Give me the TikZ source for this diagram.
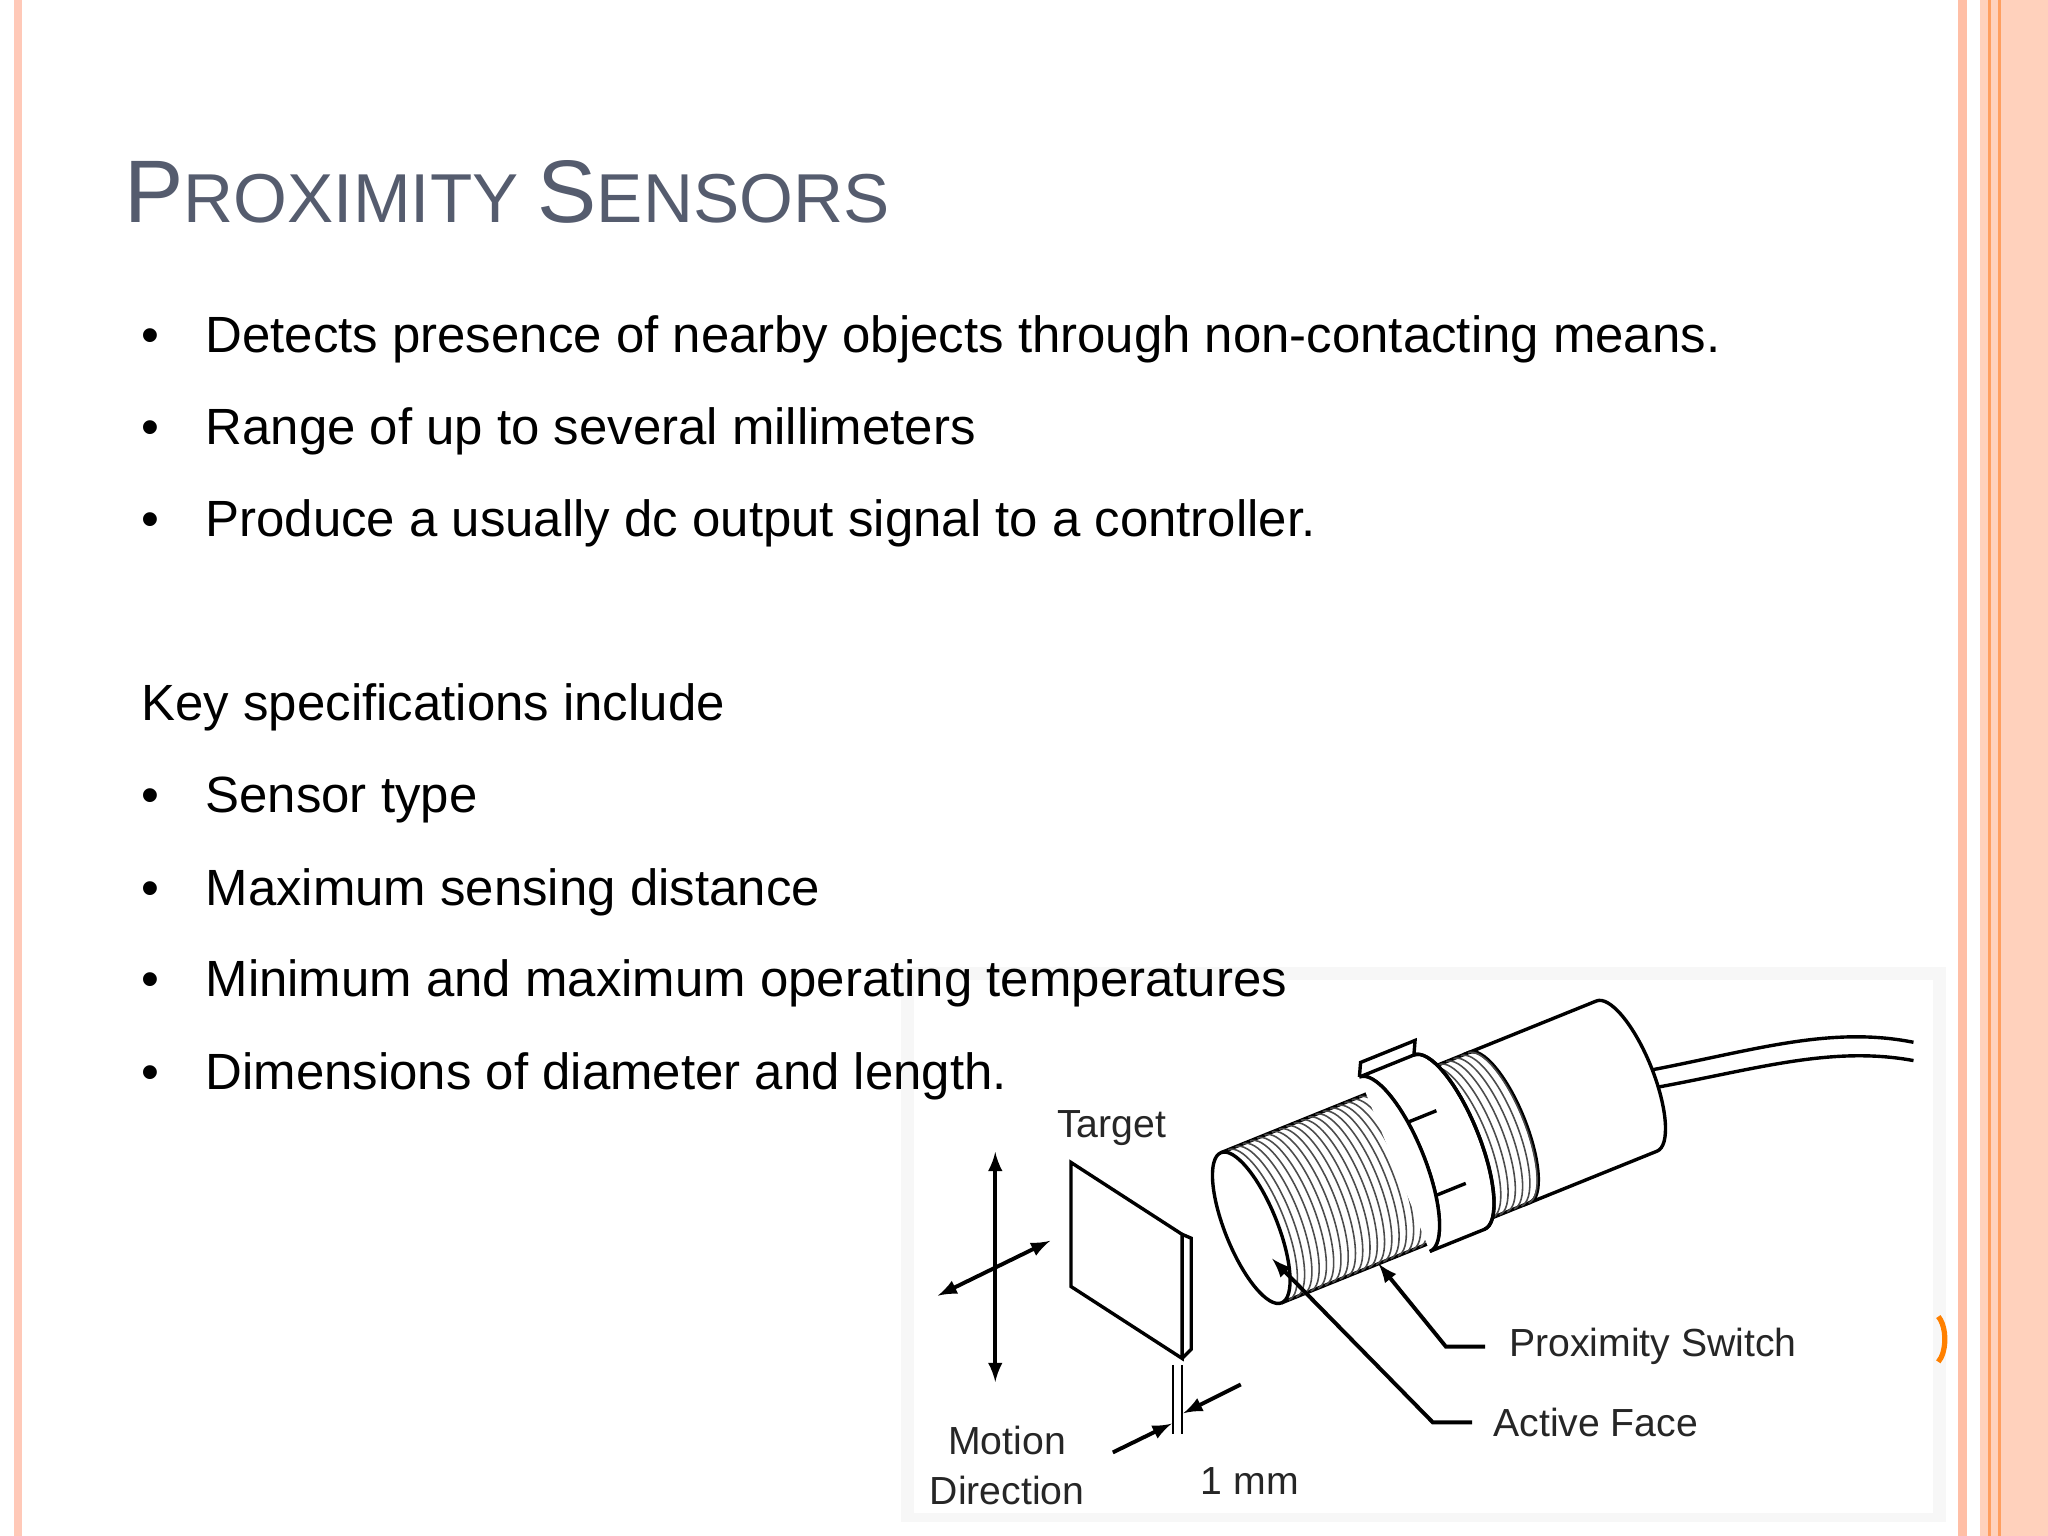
\documentclass[tikz,border=0pt]{standalone}
\usepackage{fontspec}
\setmainfont{Liberation Sans}
\begin{document}
\begin{tikzpicture}[x=0.5pt,y=0.5pt,
  body/.style={anchor=base west,font=\fontsize{19.5}{20}\selectfont,text=black,inner sep=0},
  bul/.style={anchor=base west,font=\fontsize{19.5}{20}\selectfont,inner sep=0},
  lab/.style={font=\fontsize{15}{17}\selectfont,text=black!85,inner sep=0},
  ln/.style={line width=1.3pt,black},
  arr/.style={line width=1.5pt,-latex}]
\useasboundingbox (0,0) rectangle (1568,-1176);
\fill[white] (0,0) rectangle (1568,-1176);
% borders
\fill[orange!20!pink!70] (11,0) rectangle (17,-1176);
\fill[orange!25!pink!80] (1499,0) rectangle (1506,-1176);
\fill[orange!30!pink!55] (1516,0) rectangle (1568,-1176);
\draw[orange!50!pink,line width=1pt] (1523,0) -- (1523,-1176) (1531,0) -- (1531,-1176);
% image background
\fill[black!3] (690,-740) rectangle (1490,-1165);
\fill[white] (700,-750) rectangle (1480,-1158);
% title
\node[anchor=base west,inner sep=0,text={rgb,255:red,85;green,92;blue,110}] (title) at (95,-170)
  {\fontsize{34}{40}\selectfont P\fontsize{26.5}{30}\selectfont ROXIMITY \fontsize{34}{40}\selectfont S\fontsize{26.5}{30}\selectfont ENSORS};
% bullets
\foreach \y/\t [count=\i] in {270/Detects presence of nearby objects through non-contacting means.,
  340/Range of up to several millimeters,
  411/Produce a usually dc output signal to a controller.,
  622/Sensor type,693/Maximum sensing distance,
  763/Minimum and maximum operating temperatures,834/Dimensions of diameter and length.}{
  \node[bul] (b\i) at (108,-\y) {\textbullet};
  \node[body] (t\i) at (157,-\y) {\t};
}
\node[body] (key) at (108,-552) {Key specifications include};
% cable (behind)
\coordinate (ce1) at (1465,-798); \coordinate (ce2) at (1465,-812);
\draw[ln] (1260,-820) .. controls (1340,-805) and (1400,-785) .. (ce1);
\draw[ln] (1260,-834) .. controls (1340,-820) and (1400,-800) .. (ce2);
% sensor
\begin{scope}[shift={(958,-940)},rotate=22]
  \draw[ln,fill=white] (200,62) -- (310,62) arc (90:-90:20 and 62) -- (200,-62);
  % threaded body
  \draw[ln,fill=white] (0,62) -- (205,62) arc (90:-90:20 and 62) -- (0,-62);
  \foreach \x in {6,12,...,205} \draw[black!70,line width=0.6pt] (\x,62) arc (90:-90:20 and 62);
  % nut
  \draw[ln,fill=white] (120,76) -- (165,76) arc (90:-90:23 and 72) -- (120,-68)
     arc (-90:90:23 and 72) -- cycle;
  \draw[ln] (120,76) -- (125,86) -- (170,86) -- (165,76);
  \draw[ln] (165,76) arc (90:-90:23 and 72);
  \draw[ln] (165,30) -- (120,30);
  \draw[ln] (165,-30) -- (120,-30);
  \draw[ln,fill=white] (120,76) arc (90:-90:23 and 72);
  \draw[ln,fill=white] (0,0) ellipse (20 and 62);
  \coordinate (af) at (6,-28);
  \coordinate (ps) at (80,-62);
\end{scope}
% target
\draw[ln,fill=white] (820,-890) -- (905,-945) -- (905,-1040) -- (820,-985) -- cycle;
\draw[ln] (905,-945) -- (912,-948) -- (912,-1033) -- (905,-1040);
% motion arrows
\coordinate (mt) at (762,-882); \coordinate (mb) at (762,-1058);
\draw[line width=1.5pt,latex-latex] (mt) -- (mb);
\coordinate (ml) at (718,-992); \coordinate (mr) at (804,-950);
\draw[line width=1.5pt,latex-latex] (ml) -- (mr);
% gap
\draw[line width=0.8pt] (898,-1045) -- (898,-1098) (905,-1045) -- (905,-1098);
\coordinate (g1) at (852,-1112); \coordinate (g2) at (897,-1090);
\coordinate (g3) at (950,-1060); \coordinate (g4) at (906,-1082);
\draw[arr] (g1) -- (g2); \draw[arr] (g3) -- (g4);
% labels
\node[lab] (target) at (851,-864) {Target};
\node[lab,align=center] (motion) at (771,-1122) {Motion\\[2pt]Direction};
\node[lab] (mm) at (957,-1134) {1 mm};
\node[lab,anchor=west] (psw) at (1155,-1031) {Proximity Switch};
\node[lab,anchor=west] (afl) at (1143,-1089) {Active Face};
\draw[arr] (psw.west) ++(-18,0) -- ++(-30,0) -- (ps);
\draw[arr] (afl.west) ++(-16,0) -- ++(-30,0) -- (af);
% orange mark
\draw[orange,line width=2pt] (1484,-1008) arc (60:-60:10 and 20);
\end{tikzpicture}
\end{document}
